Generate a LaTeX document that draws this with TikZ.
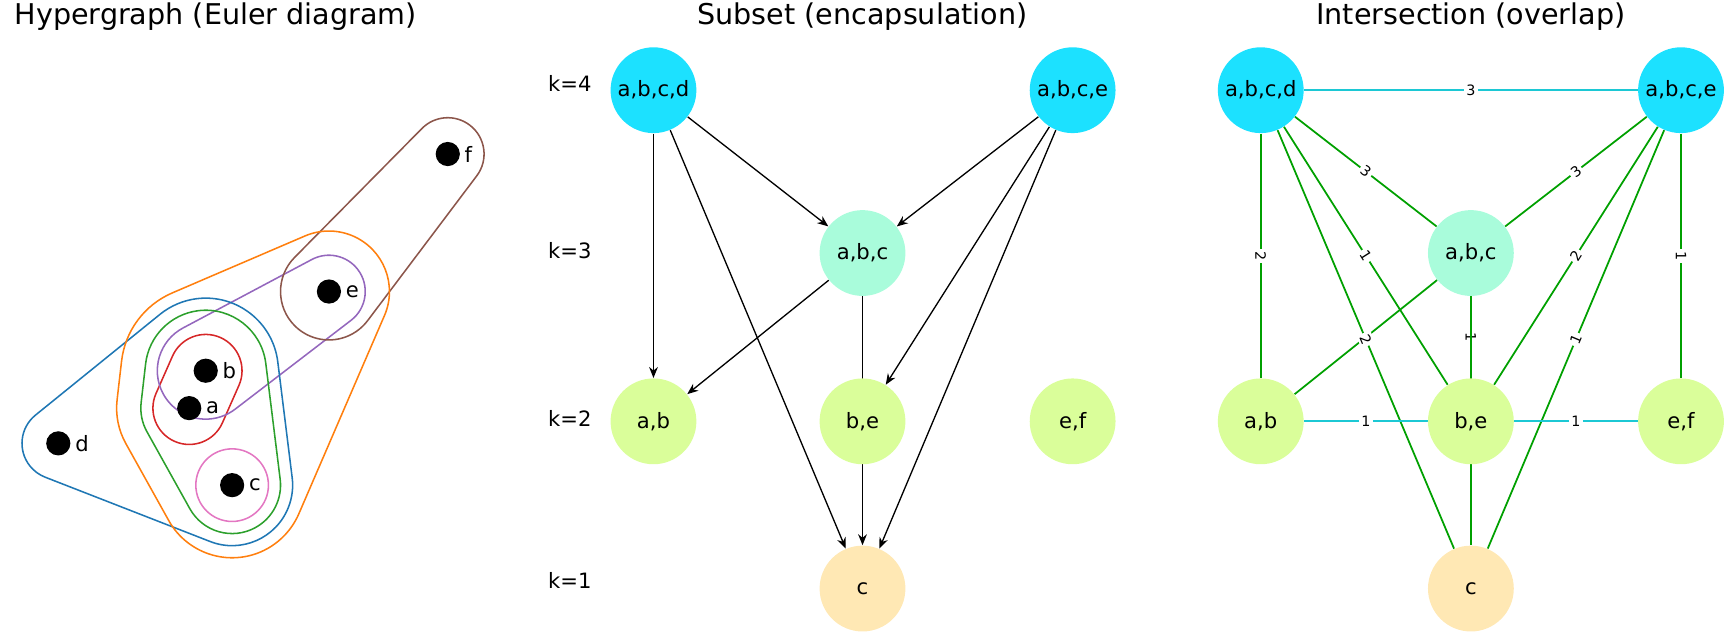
\documentclass[tikz,border=0pt]{standalone}
\usepackage{fontspec}
\setmainfont{DejaVu Sans}
\usetikzlibrary{arrows.meta,backgrounds}
\definecolor{tabblue}{HTML}{1F77B4}
\definecolor{taborange}{HTML}{FF7F0E}
\definecolor{tabgreen}{HTML}{2CA02C}
\definecolor{tabred}{HTML}{D62728}
\definecolor{tabpurple}{HTML}{9467BD}
\definecolor{tabbrown}{HTML}{8C564B}
\definecolor{tabpink}{HTML}{E377C2}
\definecolor{cfour}{HTML}{1CE1FF}
\definecolor{cthree}{HTML}{A9FCDB}
\definecolor{ctwo}{HTML}{DAFE9A}
\definecolor{cone}{HTML}{FFE8B4}
\definecolor{egreen}{HTML}{00A000}
\definecolor{ecyan}{HTML}{1CC8D4}
\newcommand\hullz[2]{%
  \foreach \hpx/\hpy/\hpr [count=\hk] in {#2} {%
    \pgfmathsetmacro\htx{\hpx*0.5}\pgfmathsetmacro\hty{-\hpy*0.5}\pgfmathsetmacro\htr{\hpr*0.5}%
    \expandafter\xdef\csname hx\hk\endcsname{\htx}%
    \expandafter\xdef\csname hy\hk\endcsname{\hty}%
    \expandafter\xdef\csname hr\hk\endcsname{\htr}%
    \xdef\hnn{\hk}%
  }%
  \foreach \hi in {1,...,\hnn}{%
    \pgfmathtruncatemacro\hj{mod(\hi,\hnn)+1}%
    \pgfmathsetmacro\hdx{\csname hx\hj\endcsname-\csname hx\hi\endcsname}%
    \pgfmathsetmacro\hdy{\csname hy\hj\endcsname-\csname hy\hi\endcsname}%
    \pgfmathsetmacro\hdd{veclen(\hdx,\hdy)}%
    \pgfmathsetmacro\hph{atan2(\hdy,\hdx)-acos((\csname hr\hi\endcsname-\csname hr\hj\endcsname)/\hdd)}%
    \expandafter\xdef\csname hp\hi\endcsname{\hph}%
  }%
  \foreach \hi in {1,...,\hnn}{%
    \pgfmathtruncatemacro\hj{mod(\hi,\hnn)+1}%
    \pgfmathtruncatemacro\hq{mod(\hi+\hnn-2,\hnn)+1}%
    \pgfmathsetmacro\hsa{\csname hp\hq\endcsname}%
    \pgfmathsetmacro\hea{\csname hp\hi\endcsname}%
    \pgfmathsetmacro\hea{\hsa+mod(\hea-\hsa+720,360)}%
    \pgfmathsetmacro\hex{\csname hx\hj\endcsname+\csname hr\hj\endcsname*cos(\csname hp\hi\endcsname)}%
    \pgfmathsetmacro\hey{\csname hy\hj\endcsname+\csname hr\hj\endcsname*sin(\csname hp\hi\endcsname)}%
    \ifnum\hi=1
      \pgfmathsetmacro\hsx{\csname hx1\endcsname+\csname hr1\endcsname*cos(\hsa)}%
      \pgfmathsetmacro\hsy{\csname hy1\endcsname+\csname hr1\endcsname*sin(\hsa)}%
      \xdef\hpath{(\hsx pt,\hsy pt)}%
    \fi
    \xdef\hpath{\hpath\space arc[start angle=\hsa,end angle=\hea,radius=\csname hr\hi\endcsname pt] -- (\hex pt,\hey pt)}%
  }%
  \draw[#1] \hpath -- cycle;%
}
\tikzset{
  hl/.style={line width=0.7pt},
  title/.style={font=\fontsize{13}{15}\selectfont},
  klab/.style={font=\fontsize{9.6}{11}\selectfont},
  hn/.style={circle,minimum size=39pt,inner sep=0pt,font=\fontsize{9.6}{11}\selectfont},
  n4/.style={hn,fill=cfour}, n3/.style={hn,fill=cthree},
  n2/.style={hn,fill=ctwo}, n1/.style={hn,fill=cone},
  arr/.style={-{Stealth[length=5pt,width=4pt]},line width=0.6pt},
  ge/.style={egreen,line width=0.8pt},
  ce/.style={ecyan,line width=0.8pt},
  el/.style={fill=white,inner sep=1pt,sloped,text=black,font=\fontsize{6.5}{7}\selectfont},
  dot/.style={fill=black},
  vl/.style={anchor=west,inner sep=0pt,font=\fontsize{9.6}{11}\selectfont},
}
\begin{document}
\begin{tikzpicture}[x=0.5pt,y=-0.5pt]
\useasboundingbox (0,0) rectangle (1568,581);
% ---------- left
\node[title] (t1) at (196,15) {Hypergraph (Euler diagram)};
\draw[tabpink,hl] (211,441) circle (16.5pt);
\hullz{tabred,hl}{172/371/33, 187/337/33}
\hullz{tabpurple,hl}{187/337/44, 299/265/33}
\hullz{tabbrown,hl}{299/265/44, 407/140/33}
\hullz{tabgreen,hl}{172/371/44, 211/441/44, 187/337/55}
\hullz{tabblue,hl}{53/403/33, 211/441/55, 187/337/66}
\hullz{taborange,hl}{172/371/66, 211/441/66, 299/265/55, 187/337/77}
\foreach \nm/\px/\py in {a/172/371, b/187/337, c/211/441, d/53/403, e/299/265, f/407/140}{
  \fill[dot] (\px,\py) circle (5.5pt);
  \node[vl] (v\nm) at (\px+15,\py) {\nm};
}
% ---------- middle
\node[title] (t2) at (784,15) {Subset (encapsulation)};
\node[klab] (k4) at (518,76) {k=4};
\node[klab] (k3) at (518,228) {k=3};
\node[klab] (k2) at (518,380) {k=2};
\node[klab] (k1) at (518,528) {k=1};
\node[n4] (m1) at (594,82) {a,b,c,d};
\node[n4] (m2) at (975,82) {a,b,c,e};
\node[n3] (m3) at (784,230) {a,b,c};
\node[n2] (m4) at (594,383) {a,b};
\node[n2] (m5) at (784,383) {b,e};
\node[n2] (m6) at (975,383) {e,f};
\node[n1] (m7) at (784,535) {c};
\begin{scope}[on background layer]
\draw[arr] (m1) -- (m3);
\draw[arr] (m1) -- (m4);
\draw[arr] (m1) -- (m7);
\draw[arr] (m2) -- (m3);
\draw[arr] (m2) -- (m5);
\draw[arr] (m2) -- (m7);
\draw[arr] (m3) -- (m4);
\draw[arr] (m3) -- (m7);
\end{scope}
% ---------- right
\node[title] (t3) at (1337,15) {Intersection (overlap)};
\node[n4] (r1) at (1146,82) {a,b,c,d};
\node[n4] (r2) at (1528,82) {a,b,c,e};
\node[n3] (r3) at (1337,230) {a,b,c};
\node[n2] (r4) at (1146,383) {a,b};
\node[n2] (r5) at (1337,383) {b,e};
\node[n2] (r6) at (1528,383) {e,f};
\node[n1] (r7) at (1337,535) {c};
\begin{scope}[on background layer]
\draw[ce] (r1) -- node[el]{3} (r2);
\draw[ge] (r1) -- node[el]{3} (r3);
\draw[ge] (r2) -- node[el]{3} (r3);
\draw[ge] (r1) -- node[el]{2} (r4);
\draw[ge] (r1) -- node[el,pos=0.5]{1} (r5);
\draw[ge] (r3) -- (r4);
\draw[ge] (r1) -- node[el]{2} (r7);
\draw[ge] (r2) -- node[el]{2} (r5);
\draw[ge] (r2) -- node[el]{1} (r7);
\draw[ge] (r2) -- node[el]{1} (r6);
\draw[ge] (r3) -- node[el]{1} (r5);
\draw[ge] (r3) -- (r7);
\draw[ce] (r4) -- node[el]{1} (r5);
\draw[ce] (r5) -- node[el]{1} (r6);
\end{scope}
\end{tikzpicture}
\end{document}
